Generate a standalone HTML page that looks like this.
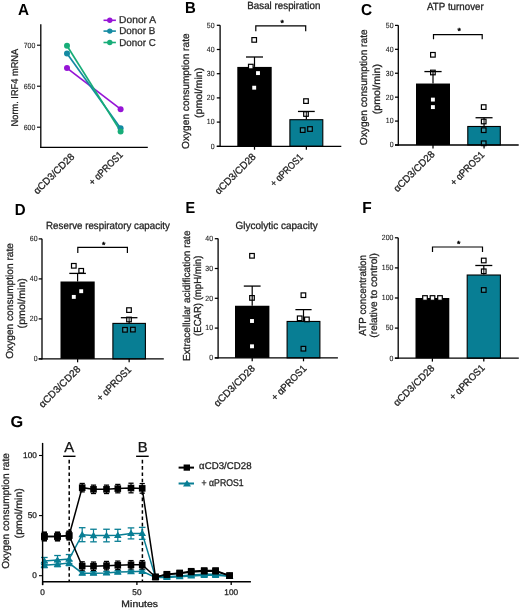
<!DOCTYPE html><html><head><meta charset="utf-8"><title>Figure</title><style>html,body{margin:0;padding:0;background:#fff;width:520px;height:610px;overflow:hidden}svg{display:block}text{font-family:'Liberation Sans', Arial, sans-serif}</style></head><body>
<svg width="520" height="610" viewBox="0 0 520 610">
<rect width="520" height="610" fill="#fff"/>
<text x="23.51" y="14.75" font-size="15.90" font-weight="bold" fill="#000" text-anchor="middle" textLength="11.05" lengthAdjust="spacingAndGlyphs" transform="rotate(0 23.510 14.750) translate(23.510 14.750) skewX(0.4) translate(-23.510 -14.750)">A</text>
<text x="190.52" y="13.05" font-size="15.90" font-weight="bold" fill="#000" text-anchor="middle" textLength="10.83" lengthAdjust="spacingAndGlyphs" transform="rotate(0 190.516 13.050) translate(190.516 13.050) skewX(0.4) translate(-190.516 -13.050)">B</text>
<text x="366.71" y="14.92" font-size="15.90" font-weight="bold" fill="#000" text-anchor="middle" textLength="11.17" lengthAdjust="spacingAndGlyphs" transform="rotate(0 366.710 14.917) translate(366.710 14.917) skewX(0.4) translate(-366.710 -14.917)">C</text>
<text x="20.20" y="214.85" font-size="15.90" font-weight="bold" fill="#000" text-anchor="middle" textLength="10.92" lengthAdjust="spacingAndGlyphs" transform="rotate(0 20.204 214.850) translate(20.204 214.850) skewX(0.4) translate(-20.204 -214.850)">D</text>
<text x="190.49" y="213.10" font-size="15.90" font-weight="bold" fill="#000" text-anchor="middle" textLength="9.71" lengthAdjust="spacingAndGlyphs" transform="rotate(0 190.488 213.100) translate(190.488 213.100) skewX(0.4) translate(-190.488 -213.100)">E</text>
<text x="366.98" y="213.10" font-size="15.90" font-weight="bold" fill="#000" text-anchor="middle" textLength="9.54" lengthAdjust="spacingAndGlyphs" transform="rotate(0 366.984 213.100) translate(366.984 213.100) skewX(0.4) translate(-366.984 -213.100)">F</text>
<text x="16.93" y="427.04" font-size="15.90" font-weight="bold" fill="#000" text-anchor="middle" textLength="12.77" lengthAdjust="spacingAndGlyphs" transform="rotate(0 16.929 427.043) translate(16.929 427.043) skewX(0.4) translate(-16.929 -427.043)">G</text>
<line x1="40.80" y1="24.20" x2="40.80" y2="148.00" stroke="#000" stroke-width="1.3" />
<line x1="40.20" y1="147.40" x2="147.80" y2="147.40" stroke="#000" stroke-width="1.3" />
<line x1="37.00" y1="45.20" x2="40.80" y2="45.20" stroke="#000" stroke-width="1.1" />
<text x="35.40" y="47.61" font-size="7.6" text-anchor="end" fill="#1a1a1a" font-weight="normal" transform="translate(35.400 47.613) skewX(0.4) translate(-35.400 -47.613)" stroke="#1a1a1a" stroke-width="0.1" textLength="11.68" lengthAdjust="spacingAndGlyphs">700</text>
<line x1="37.00" y1="86.20" x2="40.80" y2="86.20" stroke="#000" stroke-width="1.1" />
<text x="35.40" y="88.61" font-size="7.6" text-anchor="end" fill="#1a1a1a" font-weight="normal" transform="translate(35.400 88.613) skewX(0.4) translate(-35.400 -88.613)" stroke="#1a1a1a" stroke-width="0.1" textLength="11.68" lengthAdjust="spacingAndGlyphs">650</text>
<line x1="37.00" y1="127.20" x2="40.80" y2="127.20" stroke="#000" stroke-width="1.1" />
<text x="35.40" y="129.61" font-size="7.6" text-anchor="end" fill="#1a1a1a" font-weight="normal" transform="translate(35.400 129.613) skewX(0.4) translate(-35.400 -129.613)" stroke="#1a1a1a" stroke-width="0.1" textLength="11.68" lengthAdjust="spacingAndGlyphs">600</text>
<text x="18.30" y="87.61" font-size="9.80" font-weight="normal" fill="#222" text-anchor="middle" textLength="77.55" lengthAdjust="spacingAndGlyphs" transform="rotate(-90 18.299 87.610) translate(18.299 87.610) skewX(0.4) translate(-18.299 -87.610)" stroke="#222" stroke-width="0.28">Norm. IRF4 mRNA</text>
<line x1="67.00" y1="68.10" x2="120.60" y2="109.20" stroke="#9614d6" stroke-width="1.7" />
<line x1="67.00" y1="53.50" x2="120.60" y2="128.30" stroke="#148aa2" stroke-width="1.7" />
<line x1="67.00" y1="45.80" x2="120.60" y2="131.40" stroke="#17ad78" stroke-width="1.7" />
<circle cx="67" cy="68.1" r="3" fill="#9614d6"/><circle cx="120.6" cy="109.2" r="3" fill="#9614d6"/>
<circle cx="67" cy="53.5" r="3" fill="#148aa2"/><circle cx="120.6" cy="128.3" r="3" fill="#148aa2"/>
<circle cx="67" cy="45.8" r="3" fill="#17ad78"/><circle cx="120.6" cy="131.4" r="3" fill="#17ad78"/>
<line x1="103.50" y1="20.30" x2="115.90" y2="20.30" stroke="#9614d6" stroke-width="1.6" />
<circle cx="109.8" cy="20.3" r="2.7" fill="#9614d6"/>
<line x1="103.50" y1="31.10" x2="115.90" y2="31.10" stroke="#148aa2" stroke-width="1.6" />
<circle cx="109.8" cy="31.1" r="2.7" fill="#148aa2"/>
<line x1="103.50" y1="42.50" x2="115.90" y2="42.50" stroke="#17ad78" stroke-width="1.6" />
<circle cx="109.8" cy="42.5" r="2.7" fill="#17ad78"/>
<text x="137.64" y="23.49" font-size="10.00" font-weight="normal" fill="#333" text-anchor="middle" textLength="37.05" lengthAdjust="spacingAndGlyphs" transform="rotate(0 137.635 23.490) translate(137.635 23.490) skewX(0.4) translate(-137.635 -23.490)" stroke="#222" stroke-width="0.28">Donor A</text>
<text x="137.35" y="34.47" font-size="10.00" font-weight="normal" fill="#333" text-anchor="middle" textLength="36.27" lengthAdjust="spacingAndGlyphs" transform="rotate(0 137.348 34.466) translate(137.348 34.466) skewX(0.4) translate(-137.348 -34.466)" stroke="#222" stroke-width="0.28">Donor B</text>
<text x="137.50" y="45.68" font-size="10.00" font-weight="normal" fill="#333" text-anchor="middle" textLength="36.51" lengthAdjust="spacingAndGlyphs" transform="rotate(0 137.505 45.678) translate(137.505 45.678) skewX(0.4) translate(-137.505 -45.678)" stroke="#222" stroke-width="0.28">Donor C</text>
<text x="56.34" y="176.11" font-size="10.00" font-weight="normal" fill="#222" text-anchor="middle" textLength="53.03" lengthAdjust="spacingAndGlyphs" transform="rotate(-45 56.345 176.111) translate(56.345 176.111) skewX(0.4) translate(-56.345 -176.111)" stroke="#222" stroke-width="0.28">αCD3/CD28</text>
<text x="108.17" y="170.71" font-size="10.00" font-weight="normal" fill="#222" text-anchor="middle" textLength="43.27" lengthAdjust="spacingAndGlyphs" transform="rotate(-45 108.167 170.714) translate(108.167 170.714) skewX(0.4) translate(-108.167 -170.714)" stroke="#222" stroke-width="0.28">+ αPROS1</text>
<rect x="237.30" y="66.92" width="34.40" height="79.38" fill="#000"/>
<rect x="289.90" y="119.70" width="32.90" height="26.60" fill="#087e94" stroke="#000" stroke-width="1.1"/>
<line x1="254.50" y1="66.92" x2="254.50" y2="57.00" stroke="#000" stroke-width="1.2" />
<line x1="246.00" y1="57.00" x2="263.00" y2="57.00" stroke="#000" stroke-width="1.3" />
<line x1="306.35" y1="119.20" x2="306.35" y2="111.45" stroke="#000" stroke-width="1.2" />
<line x1="297.95" y1="111.45" x2="314.75" y2="111.45" stroke="#000" stroke-width="1.3" />
<rect x="251.90" y="37.60" width="4.60" height="4.60" fill="none" stroke="#000" stroke-width="1.2"/>
<rect x="248.50" y="64.30" width="4.60" height="4.60" fill="#fff" stroke="#000" stroke-width="1.2"/>
<rect x="256.05" y="71.15" width="3.9" height="3.9" fill="#fff"/>
<rect x="252.25" y="85.75" width="3.9" height="3.9" fill="#fff"/>
<rect x="303.70" y="98.80" width="4.60" height="4.60" fill="rgba(255,255,255,0.18)" stroke="#000" stroke-width="1.2"/>
<rect x="303.70" y="111.70" width="4.60" height="4.60" fill="rgba(255,255,255,0.18)" stroke="#000" stroke-width="1.2"/>
<rect x="300.40" y="127.80" width="4.60" height="4.60" fill="rgba(255,255,255,0.18)" stroke="#000" stroke-width="1.2"/>
<rect x="307.70" y="126.70" width="4.60" height="4.60" fill="rgba(255,255,255,0.18)" stroke="#000" stroke-width="1.2"/>
<line x1="220.10" y1="25.30" x2="220.10" y2="146.95" stroke="#000" stroke-width="1.3" />
<line x1="216.80" y1="146.30" x2="341.30" y2="146.30" stroke="#000" stroke-width="1.3" />
<line x1="216.80" y1="146.30" x2="220.10" y2="146.30" stroke="#000" stroke-width="1.25" />
<text x="214.60" y="148.71" font-size="7.6" text-anchor="end" fill="#1a1a1a" font-weight="normal" transform="translate(214.600 148.713) skewX(0.4) translate(-214.600 -148.713)" stroke="#1a1a1a" stroke-width="0.1" textLength="3.89" lengthAdjust="spacingAndGlyphs">0</text>
<line x1="216.80" y1="122.10" x2="220.10" y2="122.10" stroke="#000" stroke-width="1.25" />
<text x="214.60" y="124.51" font-size="7.6" text-anchor="end" fill="#1a1a1a" font-weight="normal" transform="translate(214.600 124.513) skewX(0.4) translate(-214.600 -124.513)" stroke="#1a1a1a" stroke-width="0.1" textLength="7.78" lengthAdjust="spacingAndGlyphs">10</text>
<line x1="216.80" y1="97.90" x2="220.10" y2="97.90" stroke="#000" stroke-width="1.25" />
<text x="214.60" y="100.31" font-size="7.6" text-anchor="end" fill="#1a1a1a" font-weight="normal" transform="translate(214.600 100.313) skewX(0.4) translate(-214.600 -100.313)" stroke="#1a1a1a" stroke-width="0.1" textLength="7.78" lengthAdjust="spacingAndGlyphs">20</text>
<line x1="216.80" y1="73.70" x2="220.10" y2="73.70" stroke="#000" stroke-width="1.25" />
<text x="214.60" y="76.11" font-size="7.6" text-anchor="end" fill="#1a1a1a" font-weight="normal" transform="translate(214.600 76.113) skewX(0.4) translate(-214.600 -76.113)" stroke="#1a1a1a" stroke-width="0.1" textLength="7.78" lengthAdjust="spacingAndGlyphs">30</text>
<line x1="216.80" y1="49.50" x2="220.10" y2="49.50" stroke="#000" stroke-width="1.25" />
<text x="214.60" y="51.91" font-size="7.6" text-anchor="end" fill="#1a1a1a" font-weight="normal" transform="translate(214.600 51.913) skewX(0.4) translate(-214.600 -51.913)" stroke="#1a1a1a" stroke-width="0.1" textLength="7.78" lengthAdjust="spacingAndGlyphs">40</text>
<line x1="216.80" y1="25.30" x2="220.10" y2="25.30" stroke="#000" stroke-width="1.25" />
<text x="214.60" y="27.71" font-size="7.6" text-anchor="end" fill="#1a1a1a" font-weight="normal" transform="translate(214.600 27.713) skewX(0.4) translate(-214.600 -27.713)" stroke="#1a1a1a" stroke-width="0.1" textLength="7.78" lengthAdjust="spacingAndGlyphs">50</text>
<line x1="254.50" y1="146.30" x2="254.50" y2="149.70" stroke="#000" stroke-width="1.25" />
<line x1="306.35" y1="146.30" x2="306.35" y2="149.70" stroke="#000" stroke-width="1.25" />
<polyline points="255.80,31.20 255.80,25.80 305.70,25.80 305.70,31.20" fill="none" stroke="#000" stroke-width="1.2"/>
<text x="282.30" y="26.10" font-size="8.8" text-anchor="middle" fill="#000" font-weight="normal" transform="translate(282.300 26.100) skewX(0.4) translate(-282.300 -26.100)" stroke="#000" stroke-width="0.45">*</text>
<text x="283.80" y="8.97" font-size="10.40" font-weight="normal" fill="#222" text-anchor="middle" textLength="73.12" lengthAdjust="spacingAndGlyphs" transform="rotate(0 283.800 8.971) translate(283.800 8.971) skewX(0.4) translate(-283.800 -8.971)" stroke="#222" stroke-width="0.28">Basal respiration</text>
<text x="189.15" y="91.15" font-size="10.20" font-weight="normal" fill="#222" text-anchor="middle" textLength="115.50" lengthAdjust="spacingAndGlyphs" transform="rotate(-90 189.153 91.146) translate(189.153 91.146) skewX(0.4) translate(-189.153 -91.146)" stroke="#222" stroke-width="0.28">Oxygen consumption rate</text>
<text x="202.48" y="92.85" font-size="10.20" font-weight="normal" fill="#222" text-anchor="middle" textLength="50.48" lengthAdjust="spacingAndGlyphs" transform="rotate(-90 202.483 92.851) translate(202.483 92.851) skewX(0.4) translate(-202.483 -92.851)" stroke="#222" stroke-width="0.28">(pmol/min)</text>
<text x="237.59" y="176.17" font-size="10.00" font-weight="normal" fill="#222" text-anchor="middle" textLength="53.39" lengthAdjust="spacingAndGlyphs" transform="rotate(-45 237.591 176.171) translate(237.591 176.171) skewX(0.4) translate(-237.591 -176.171)" stroke="#222" stroke-width="0.28">αCD3/CD28</text>
<text x="288.93" y="172.64" font-size="10.00" font-weight="normal" fill="#222" text-anchor="middle" textLength="41.49" lengthAdjust="spacingAndGlyphs" transform="rotate(-45 288.934 172.641) translate(288.934 172.641) skewX(0.4) translate(-288.934 -172.641)" stroke="#222" stroke-width="0.28">+ αPROS1</text>
<rect x="416.00" y="83.53" width="34.00" height="61.47" fill="#000"/>
<rect x="467.80" y="126.48" width="32.50" height="18.52" fill="#087e94" stroke="#000" stroke-width="1.1"/>
<line x1="433.00" y1="83.53" x2="433.00" y2="71.57" stroke="#000" stroke-width="1.2" />
<line x1="424.40" y1="71.57" x2="441.60" y2="71.57" stroke="#000" stroke-width="1.3" />
<line x1="484.05" y1="125.98" x2="484.05" y2="117.73" stroke="#000" stroke-width="1.2" />
<line x1="475.55" y1="117.73" x2="492.55" y2="117.73" stroke="#000" stroke-width="1.3" />
<rect x="430.60" y="52.50" width="4.60" height="4.60" fill="none" stroke="#000" stroke-width="1.2"/>
<rect x="430.60" y="70.20" width="4.60" height="4.60" fill="none" stroke="#000" stroke-width="1.2"/>
<rect x="430.95" y="97.65" width="3.9" height="3.9" fill="#fff"/>
<rect x="430.95" y="105.15" width="3.9" height="3.9" fill="#fff"/>
<rect x="481.40" y="104.80" width="4.60" height="4.60" fill="rgba(255,255,255,0.18)" stroke="#000" stroke-width="1.2"/>
<rect x="481.40" y="119.20" width="4.60" height="4.60" fill="rgba(255,255,255,0.18)" stroke="#000" stroke-width="1.2"/>
<rect x="481.40" y="127.90" width="4.60" height="4.60" fill="rgba(255,255,255,0.18)" stroke="#000" stroke-width="1.2"/>
<rect x="481.40" y="141.00" width="4.60" height="4.60" fill="rgba(255,255,255,0.18)" stroke="#000" stroke-width="1.2"/>
<line x1="398.30" y1="25.30" x2="398.30" y2="145.65" stroke="#000" stroke-width="1.3" />
<line x1="395.00" y1="145.00" x2="518.70" y2="145.00" stroke="#000" stroke-width="1.3" />
<line x1="395.00" y1="145.00" x2="398.30" y2="145.00" stroke="#000" stroke-width="1.25" />
<text x="393.60" y="147.41" font-size="7.6" text-anchor="end" fill="#1a1a1a" font-weight="normal" transform="translate(393.600 147.413) skewX(0.4) translate(-393.600 -147.413)" stroke="#1a1a1a" stroke-width="0.1" textLength="3.89" lengthAdjust="spacingAndGlyphs">0</text>
<line x1="395.00" y1="121.08" x2="398.30" y2="121.08" stroke="#000" stroke-width="1.25" />
<text x="393.60" y="123.49" font-size="7.6" text-anchor="end" fill="#1a1a1a" font-weight="normal" transform="translate(393.600 123.493) skewX(0.4) translate(-393.600 -123.493)" stroke="#1a1a1a" stroke-width="0.1" textLength="7.78" lengthAdjust="spacingAndGlyphs">10</text>
<line x1="395.00" y1="97.16" x2="398.30" y2="97.16" stroke="#000" stroke-width="1.25" />
<text x="393.60" y="99.57" font-size="7.6" text-anchor="end" fill="#1a1a1a" font-weight="normal" transform="translate(393.600 99.573) skewX(0.4) translate(-393.600 -99.573)" stroke="#1a1a1a" stroke-width="0.1" textLength="7.78" lengthAdjust="spacingAndGlyphs">20</text>
<line x1="395.00" y1="73.24" x2="398.30" y2="73.24" stroke="#000" stroke-width="1.25" />
<text x="393.60" y="75.65" font-size="7.6" text-anchor="end" fill="#1a1a1a" font-weight="normal" transform="translate(393.600 75.653) skewX(0.4) translate(-393.600 -75.653)" stroke="#1a1a1a" stroke-width="0.1" textLength="7.78" lengthAdjust="spacingAndGlyphs">30</text>
<line x1="395.00" y1="49.32" x2="398.30" y2="49.32" stroke="#000" stroke-width="1.25" />
<text x="393.60" y="51.73" font-size="7.6" text-anchor="end" fill="#1a1a1a" font-weight="normal" transform="translate(393.600 51.733) skewX(0.4) translate(-393.600 -51.733)" stroke="#1a1a1a" stroke-width="0.1" textLength="7.78" lengthAdjust="spacingAndGlyphs">40</text>
<line x1="395.00" y1="25.40" x2="398.30" y2="25.40" stroke="#000" stroke-width="1.25" />
<text x="393.60" y="27.81" font-size="7.6" text-anchor="end" fill="#1a1a1a" font-weight="normal" transform="translate(393.600 27.813) skewX(0.4) translate(-393.600 -27.813)" stroke="#1a1a1a" stroke-width="0.1" textLength="7.78" lengthAdjust="spacingAndGlyphs">50</text>
<line x1="433.00" y1="145.00" x2="433.00" y2="148.40" stroke="#000" stroke-width="1.25" />
<line x1="484.05" y1="145.00" x2="484.05" y2="148.40" stroke="#000" stroke-width="1.25" />
<polyline points="433.50,39.20 433.50,34.60 482.20,34.60 482.20,39.20" fill="none" stroke="#000" stroke-width="1.2"/>
<text x="459.20" y="34.20" font-size="8.8" text-anchor="middle" fill="#000" font-weight="normal" transform="translate(459.200 34.200) skewX(0.4) translate(-459.200 -34.200)" stroke="#000" stroke-width="0.45">*</text>
<text x="455.41" y="9.89" font-size="10.40" font-weight="normal" fill="#222" text-anchor="middle" textLength="56.73" lengthAdjust="spacingAndGlyphs" transform="rotate(0 455.412 9.891) translate(455.412 9.891) skewX(0.4) translate(-455.412 -9.891)" stroke="#222" stroke-width="0.28">ATP turnover</text>
<text x="367.22" y="87.27" font-size="10.20" font-weight="normal" fill="#222" text-anchor="middle" textLength="115.76" lengthAdjust="spacingAndGlyphs" transform="rotate(-90 367.221 87.266) translate(367.221 87.266) skewX(0.4) translate(-367.221 -87.266)" stroke="#222" stroke-width="0.28">Oxygen consumption rate</text>
<text x="380.19" y="89.14" font-size="10.20" font-weight="normal" fill="#222" text-anchor="middle" textLength="50.48" lengthAdjust="spacingAndGlyphs" transform="rotate(-90 380.186 89.137) translate(380.186 89.137) skewX(0.4) translate(-380.186 -89.137)" stroke="#222" stroke-width="0.28">(pmol/min)</text>
<text x="416.40" y="173.67" font-size="10.00" font-weight="normal" fill="#222" text-anchor="middle" textLength="53.38" lengthAdjust="spacingAndGlyphs" transform="rotate(-45 416.403 173.675) translate(416.403 173.675) skewX(0.4) translate(-416.403 -173.675)" stroke="#222" stroke-width="0.28">αCD3/CD28</text>
<text x="469.61" y="170.87" font-size="10.00" font-weight="normal" fill="#222" text-anchor="middle" textLength="43.66" lengthAdjust="spacingAndGlyphs" transform="rotate(-45 469.605 170.871) translate(469.605 170.871) skewX(0.4) translate(-469.605 -170.871)" stroke="#222" stroke-width="0.28">+ αPROS1</text>
<rect x="60.50" y="281.50" width="34.20" height="77.40" fill="#000"/>
<rect x="112.90" y="323.40" width="32.50" height="35.50" fill="#087e94" stroke="#000" stroke-width="1.1"/>
<line x1="77.60" y1="281.50" x2="77.60" y2="273.40" stroke="#000" stroke-width="1.2" />
<line x1="69.30" y1="273.40" x2="85.90" y2="273.40" stroke="#000" stroke-width="1.3" />
<line x1="129.15" y1="322.90" x2="129.15" y2="317.70" stroke="#000" stroke-width="1.2" />
<line x1="120.85" y1="317.70" x2="137.45" y2="317.70" stroke="#000" stroke-width="1.3" />
<rect x="71.50" y="263.50" width="4.60" height="4.60" fill="none" stroke="#000" stroke-width="1.2"/>
<rect x="78.90" y="268.50" width="4.60" height="4.60" fill="none" stroke="#000" stroke-width="1.2"/>
<rect x="79.25" y="289.25" width="3.9" height="3.9" fill="#fff"/>
<rect x="71.85" y="294.95" width="3.9" height="3.9" fill="#fff"/>
<rect x="126.70" y="307.80" width="4.60" height="4.60" fill="rgba(255,255,255,0.18)" stroke="#000" stroke-width="1.2"/>
<rect x="126.70" y="317.20" width="4.60" height="4.60" fill="rgba(255,255,255,0.18)" stroke="#000" stroke-width="1.2"/>
<rect x="122.70" y="327.50" width="4.60" height="4.60" fill="rgba(255,255,255,0.18)" stroke="#000" stroke-width="1.2"/>
<rect x="130.60" y="327.30" width="4.60" height="4.60" fill="rgba(255,255,255,0.18)" stroke="#000" stroke-width="1.2"/>
<line x1="42.00" y1="238.80" x2="42.00" y2="359.55" stroke="#000" stroke-width="1.3" />
<line x1="38.70" y1="358.90" x2="163.80" y2="358.90" stroke="#000" stroke-width="1.3" />
<line x1="38.70" y1="358.90" x2="42.00" y2="358.90" stroke="#000" stroke-width="1.25" />
<text x="37.60" y="361.31" font-size="7.6" text-anchor="end" fill="#1a1a1a" font-weight="normal" transform="translate(37.600 361.313) skewX(0.4) translate(-37.600 -361.313)" stroke="#1a1a1a" stroke-width="0.1" textLength="3.89" lengthAdjust="spacingAndGlyphs">0</text>
<line x1="38.70" y1="318.90" x2="42.00" y2="318.90" stroke="#000" stroke-width="1.25" />
<text x="37.60" y="321.31" font-size="7.6" text-anchor="end" fill="#1a1a1a" font-weight="normal" transform="translate(37.600 321.313) skewX(0.4) translate(-37.600 -321.313)" stroke="#1a1a1a" stroke-width="0.1" textLength="7.78" lengthAdjust="spacingAndGlyphs">20</text>
<line x1="38.70" y1="278.90" x2="42.00" y2="278.90" stroke="#000" stroke-width="1.25" />
<text x="37.60" y="281.31" font-size="7.6" text-anchor="end" fill="#1a1a1a" font-weight="normal" transform="translate(37.600 281.313) skewX(0.4) translate(-37.600 -281.313)" stroke="#1a1a1a" stroke-width="0.1" textLength="7.78" lengthAdjust="spacingAndGlyphs">40</text>
<line x1="38.70" y1="238.90" x2="42.00" y2="238.90" stroke="#000" stroke-width="1.25" />
<text x="37.60" y="241.31" font-size="7.6" text-anchor="end" fill="#1a1a1a" font-weight="normal" transform="translate(37.600 241.313) skewX(0.4) translate(-37.600 -241.313)" stroke="#1a1a1a" stroke-width="0.1" textLength="7.78" lengthAdjust="spacingAndGlyphs">60</text>
<line x1="77.60" y1="358.90" x2="77.60" y2="362.30" stroke="#000" stroke-width="1.25" />
<line x1="129.15" y1="358.90" x2="129.15" y2="362.30" stroke="#000" stroke-width="1.25" />
<polyline points="77.80,253.10 77.80,247.30 127.40,247.30 127.40,253.10" fill="none" stroke="#000" stroke-width="1.2"/>
<text x="103.80" y="248.10" font-size="8.8" text-anchor="middle" fill="#000" font-weight="normal" transform="translate(103.800 248.100) skewX(0.4) translate(-103.800 -248.100)" stroke="#000" stroke-width="0.45">*</text>
<text x="107.99" y="229.23" font-size="10.40" font-weight="normal" fill="#222" text-anchor="middle" textLength="123.85" lengthAdjust="spacingAndGlyphs" transform="rotate(0 107.992 229.229) translate(107.992 229.229) skewX(0.4) translate(-107.992 -229.229)" stroke="#222" stroke-width="0.28">Reserve respiratory capacity</text>
<text x="12.74" y="300.93" font-size="10.20" font-weight="normal" fill="#222" text-anchor="middle" textLength="115.79" lengthAdjust="spacingAndGlyphs" transform="rotate(-90 12.739 300.934) translate(12.739 300.934) skewX(0.4) translate(-12.739 -300.934)" stroke="#222" stroke-width="0.28">Oxygen consumption rate</text>
<text x="24.83" y="303.26" font-size="10.20" font-weight="normal" fill="#222" text-anchor="middle" textLength="50.31" lengthAdjust="spacingAndGlyphs" transform="rotate(-90 24.827 303.264) translate(24.827 303.264) skewX(0.4) translate(-24.827 -303.264)" stroke="#222" stroke-width="0.28">(pmol/min)</text>
<text x="62.01" y="389.01" font-size="10.00" font-weight="normal" fill="#222" text-anchor="middle" textLength="54.30" lengthAdjust="spacingAndGlyphs" transform="rotate(-45 62.014 389.010) translate(62.014 389.010) skewX(0.4) translate(-62.014 -389.010)" stroke="#222" stroke-width="0.28">αCD3/CD28</text>
<text x="116.32" y="386.04" font-size="10.00" font-weight="normal" fill="#222" text-anchor="middle" textLength="44.37" lengthAdjust="spacingAndGlyphs" transform="rotate(-45 116.316 386.041) translate(116.316 386.041) skewX(0.4) translate(-116.316 -386.041)" stroke="#222" stroke-width="0.28">+ αPROS1</text>
<rect x="235.00" y="305.75" width="34.40" height="52.15" fill="#000"/>
<rect x="287.10" y="321.45" width="32.80" height="36.45" fill="#087e94" stroke="#000" stroke-width="1.1"/>
<line x1="252.20" y1="305.75" x2="252.20" y2="286.08" stroke="#000" stroke-width="1.2" />
<line x1="243.80" y1="286.08" x2="260.60" y2="286.08" stroke="#000" stroke-width="1.3" />
<line x1="303.50" y1="320.95" x2="303.50" y2="309.62" stroke="#000" stroke-width="1.2" />
<line x1="295.40" y1="309.62" x2="311.60" y2="309.62" stroke="#000" stroke-width="1.3" />
<rect x="249.70" y="253.50" width="4.60" height="4.60" fill="none" stroke="#000" stroke-width="1.2"/>
<rect x="249.70" y="295.60" width="4.60" height="4.60" fill="none" stroke="#000" stroke-width="1.2"/>
<rect x="250.05" y="319.05" width="3.9" height="3.9" fill="#fff"/>
<rect x="250.05" y="344.35" width="3.9" height="3.9" fill="#fff"/>
<rect x="301.10" y="292.90" width="4.60" height="4.60" fill="rgba(255,255,255,0.18)" stroke="#000" stroke-width="1.2"/>
<rect x="297.40" y="316.00" width="4.60" height="4.60" fill="rgba(255,255,255,0.18)" stroke="#000" stroke-width="1.2"/>
<rect x="304.60" y="317.10" width="4.60" height="4.60" fill="rgba(255,255,255,0.18)" stroke="#000" stroke-width="1.2"/>
<rect x="301.10" y="346.40" width="4.60" height="4.60" fill="rgba(255,255,255,0.18)" stroke="#000" stroke-width="1.2"/>
<line x1="218.10" y1="238.60" x2="218.10" y2="358.55" stroke="#000" stroke-width="1.3" />
<line x1="214.80" y1="357.90" x2="337.90" y2="357.90" stroke="#000" stroke-width="1.3" />
<line x1="214.80" y1="357.90" x2="218.10" y2="357.90" stroke="#000" stroke-width="1.25" />
<text x="213.10" y="360.31" font-size="7.6" text-anchor="end" fill="#1a1a1a" font-weight="normal" transform="translate(213.100 360.313) skewX(0.4) translate(-213.100 -360.313)" stroke="#1a1a1a" stroke-width="0.1" textLength="3.89" lengthAdjust="spacingAndGlyphs">0</text>
<line x1="214.80" y1="328.10" x2="218.10" y2="328.10" stroke="#000" stroke-width="1.25" />
<text x="213.10" y="330.51" font-size="7.6" text-anchor="end" fill="#1a1a1a" font-weight="normal" transform="translate(213.100 330.513) skewX(0.4) translate(-213.100 -330.513)" stroke="#1a1a1a" stroke-width="0.1" textLength="7.78" lengthAdjust="spacingAndGlyphs">10</text>
<line x1="214.80" y1="298.30" x2="218.10" y2="298.30" stroke="#000" stroke-width="1.25" />
<text x="213.10" y="300.71" font-size="7.6" text-anchor="end" fill="#1a1a1a" font-weight="normal" transform="translate(213.100 300.713) skewX(0.4) translate(-213.100 -300.713)" stroke="#1a1a1a" stroke-width="0.1" textLength="7.78" lengthAdjust="spacingAndGlyphs">20</text>
<line x1="214.80" y1="268.50" x2="218.10" y2="268.50" stroke="#000" stroke-width="1.25" />
<text x="213.10" y="270.91" font-size="7.6" text-anchor="end" fill="#1a1a1a" font-weight="normal" transform="translate(213.100 270.913) skewX(0.4) translate(-213.100 -270.913)" stroke="#1a1a1a" stroke-width="0.1" textLength="7.78" lengthAdjust="spacingAndGlyphs">30</text>
<line x1="214.80" y1="238.70" x2="218.10" y2="238.70" stroke="#000" stroke-width="1.25" />
<text x="213.10" y="241.11" font-size="7.6" text-anchor="end" fill="#1a1a1a" font-weight="normal" transform="translate(213.100 241.113) skewX(0.4) translate(-213.100 -241.113)" stroke="#1a1a1a" stroke-width="0.1" textLength="7.78" lengthAdjust="spacingAndGlyphs">40</text>
<line x1="252.20" y1="357.90" x2="252.20" y2="361.30" stroke="#000" stroke-width="1.25" />
<line x1="303.50" y1="357.90" x2="303.50" y2="361.30" stroke="#000" stroke-width="1.25" />
<text x="276.58" y="228.59" font-size="10.40" font-weight="normal" fill="#222" text-anchor="middle" textLength="82.23" lengthAdjust="spacingAndGlyphs" transform="rotate(0 276.576 228.593) translate(276.576 228.593) skewX(0.4) translate(-276.576 -228.593)" stroke="#222" stroke-width="0.28">Glycolytic capacity</text>
<text x="190.11" y="295.80" font-size="10.20" font-weight="normal" fill="#222" text-anchor="middle" textLength="130.57" lengthAdjust="spacingAndGlyphs" transform="rotate(-90 190.108 295.800) translate(190.108 295.800) skewX(0.4) translate(-190.108 -295.800)" stroke="#222" stroke-width="0.28">Extracellular acidification rate</text>
<text x="200.81" y="295.80" font-size="10.20" font-weight="normal" fill="#222" text-anchor="middle" textLength="80.24" lengthAdjust="spacingAndGlyphs" transform="rotate(-90 200.809 295.796) translate(200.809 295.796) skewX(0.4) translate(-200.809 -295.796)" stroke="#222" stroke-width="0.28">(ECAR) (mpH/min)</text>
<text x="236.66" y="388.15" font-size="10.00" font-weight="normal" fill="#222" text-anchor="middle" textLength="53.79" lengthAdjust="spacingAndGlyphs" transform="rotate(-45 236.665 388.146) translate(236.665 388.146) skewX(0.4) translate(-236.665 -388.146)" stroke="#222" stroke-width="0.28">αCD3/CD28</text>
<text x="291.21" y="385.20" font-size="10.00" font-weight="normal" fill="#222" text-anchor="middle" textLength="45.37" lengthAdjust="spacingAndGlyphs" transform="rotate(-45 291.205 385.197) translate(291.205 385.197) skewX(0.4) translate(-291.205 -385.197)" stroke="#222" stroke-width="0.28">+ αPROS1</text>
<rect x="415.50" y="298.00" width="33.80" height="60.20" fill="#000"/>
<rect x="467.20" y="275.02" width="33.20" height="83.18" fill="#087e94" stroke="#000" stroke-width="1.1"/>
<line x1="483.80" y1="274.52" x2="483.80" y2="265.49" stroke="#000" stroke-width="1.2" />
<line x1="475.30" y1="265.49" x2="492.30" y2="265.49" stroke="#000" stroke-width="1.3" />
<rect x="422.70" y="295.70" width="4.60" height="4.60" fill="#fff" stroke="#000" stroke-width="1.2"/>
<rect x="430.20" y="295.70" width="4.60" height="4.60" fill="#fff" stroke="#000" stroke-width="1.2"/>
<rect x="437.70" y="295.70" width="4.60" height="4.60" fill="#fff" stroke="#000" stroke-width="1.2"/>
<rect x="481.45" y="258.20" width="4.60" height="4.60" fill="rgba(255,255,255,0.18)" stroke="#000" stroke-width="1.2"/>
<rect x="481.45" y="269.00" width="4.60" height="4.60" fill="rgba(255,255,255,0.18)" stroke="#000" stroke-width="1.2"/>
<rect x="481.45" y="287.70" width="4.60" height="4.60" fill="rgba(255,255,255,0.18)" stroke="#000" stroke-width="1.2"/>
<line x1="398.20" y1="237.80" x2="398.20" y2="358.85" stroke="#000" stroke-width="1.3" />
<line x1="394.90" y1="358.20" x2="518.80" y2="358.20" stroke="#000" stroke-width="1.3" />
<line x1="394.90" y1="358.20" x2="398.20" y2="358.20" stroke="#000" stroke-width="1.25" />
<text x="393.50" y="360.61" font-size="7.6" text-anchor="end" fill="#1a1a1a" font-weight="normal" transform="translate(393.500 360.613) skewX(0.4) translate(-393.500 -360.613)" stroke="#1a1a1a" stroke-width="0.1" textLength="3.89" lengthAdjust="spacingAndGlyphs">0</text>
<line x1="394.90" y1="328.10" x2="398.20" y2="328.10" stroke="#000" stroke-width="1.25" />
<text x="393.50" y="330.51" font-size="7.6" text-anchor="end" fill="#1a1a1a" font-weight="normal" transform="translate(393.500 330.513) skewX(0.4) translate(-393.500 -330.513)" stroke="#1a1a1a" stroke-width="0.1" textLength="7.78" lengthAdjust="spacingAndGlyphs">50</text>
<line x1="394.90" y1="298.00" x2="398.20" y2="298.00" stroke="#000" stroke-width="1.25" />
<text x="393.50" y="300.41" font-size="7.6" text-anchor="end" fill="#1a1a1a" font-weight="normal" transform="translate(393.500 300.413) skewX(0.4) translate(-393.500 -300.413)" stroke="#1a1a1a" stroke-width="0.1" textLength="11.68" lengthAdjust="spacingAndGlyphs">100</text>
<line x1="394.90" y1="267.90" x2="398.20" y2="267.90" stroke="#000" stroke-width="1.25" />
<text x="393.50" y="270.31" font-size="7.6" text-anchor="end" fill="#1a1a1a" font-weight="normal" transform="translate(393.500 270.313) skewX(0.4) translate(-393.500 -270.313)" stroke="#1a1a1a" stroke-width="0.1" textLength="11.68" lengthAdjust="spacingAndGlyphs">150</text>
<line x1="394.90" y1="237.80" x2="398.20" y2="237.80" stroke="#000" stroke-width="1.25" />
<text x="393.50" y="240.21" font-size="7.6" text-anchor="end" fill="#1a1a1a" font-weight="normal" transform="translate(393.500 240.213) skewX(0.4) translate(-393.500 -240.213)" stroke="#1a1a1a" stroke-width="0.1" textLength="11.68" lengthAdjust="spacingAndGlyphs">200</text>
<line x1="432.40" y1="358.20" x2="432.40" y2="361.60" stroke="#000" stroke-width="1.25" />
<line x1="483.80" y1="358.20" x2="483.80" y2="361.60" stroke="#000" stroke-width="1.25" />
<polyline points="432.50,252.00 432.50,247.00 482.50,247.00 482.50,252.00" fill="none" stroke="#000" stroke-width="1.2"/>
<text x="458.75" y="246.65" font-size="8.8" text-anchor="middle" fill="#000" font-weight="normal" transform="translate(458.750 246.650) skewX(0.4) translate(-458.750 -246.650)" stroke="#000" stroke-width="0.45">*</text>
<text x="366.03" y="295.41" font-size="10.20" font-weight="normal" fill="#222" text-anchor="middle" textLength="80.69" lengthAdjust="spacingAndGlyphs" transform="rotate(-90 366.032 295.406) translate(366.032 295.406) skewX(0.4) translate(-366.032 -295.406)" stroke="#222" stroke-width="0.28">ATP concentration</text>
<text x="377.44" y="295.31" font-size="10.20" font-weight="normal" fill="#222" text-anchor="middle" textLength="84.71" lengthAdjust="spacingAndGlyphs" transform="rotate(-90 377.445 295.314) translate(377.445 295.314) skewX(0.4) translate(-377.445 -295.314)" stroke="#222" stroke-width="0.28">(relative to control)</text>
<text x="416.15" y="387.92" font-size="10.00" font-weight="normal" fill="#222" text-anchor="middle" textLength="53.60" lengthAdjust="spacingAndGlyphs" transform="rotate(-45 416.146 387.917) translate(416.146 387.917) skewX(0.4) translate(-416.146 -387.917)" stroke="#222" stroke-width="0.28">αCD3/CD28</text>
<text x="469.42" y="384.59" font-size="10.00" font-weight="normal" fill="#222" text-anchor="middle" textLength="45.54" lengthAdjust="spacingAndGlyphs" transform="rotate(-45 469.420 384.587) translate(469.420 384.587) skewX(0.4) translate(-469.420 -384.587)" stroke="#222" stroke-width="0.28">+ αPROS1</text>
<line x1="69.20" y1="459.80" x2="69.20" y2="581.70" stroke="#000" stroke-width="1.5" stroke-dasharray="3.6 2.7"/>
<line x1="142.40" y1="459.80" x2="142.40" y2="581.70" stroke="#000" stroke-width="1.5" stroke-dasharray="3.6 2.7"/>
<line x1="63.10" y1="456.30" x2="75.50" y2="456.30" stroke="#000" stroke-width="1.4" />
<line x1="136.10" y1="456.30" x2="148.70" y2="456.30" stroke="#000" stroke-width="1.4" />
<text x="69.20" y="451.67" font-size="14.50" font-weight="normal" fill="#111" text-anchor="middle" textLength="9.91" lengthAdjust="spacingAndGlyphs" transform="rotate(0 69.199 451.669) translate(69.199 451.669) skewX(0.4) translate(-69.199 -451.669)" stroke="#222" stroke-width="0.28">A</text>
<text x="142.64" y="451.72" font-size="14.50" font-weight="normal" fill="#111" text-anchor="middle" textLength="9.92" lengthAdjust="spacingAndGlyphs" transform="rotate(0 142.642 451.720) translate(142.642 451.720) skewX(0.4) translate(-142.642 -451.720)" stroke="#222" stroke-width="0.28">B</text>
<polyline points="44.35,560.97 57.50,560.02 69.10,559.06 82.20,534.70 93.50,535.54 106.50,535.54 117.80,535.30 131.00,533.39 142.20,533.39 155.50,577.21 166.90,576.73 179.70,576.02 191.20,575.06 204.20,574.34 215.60,574.34 229.60,576.02" fill="none" stroke="#087e94" stroke-width="1.5"/>
<line x1="44.35" y1="557.47" x2="44.35" y2="564.47" stroke="#087e94" stroke-width="1.2" />
<line x1="41.05" y1="557.47" x2="47.65" y2="557.47" stroke="#087e94" stroke-width="1.3" />
<line x1="41.05" y1="564.47" x2="47.65" y2="564.47" stroke="#087e94" stroke-width="1.3" />
<polygon points="44.35,557.17 48.15,563.57 40.55,563.57" fill="#087e94"/>
<line x1="57.50" y1="555.52" x2="57.50" y2="564.52" stroke="#087e94" stroke-width="1.2" />
<line x1="54.20" y1="555.52" x2="60.80" y2="555.52" stroke="#087e94" stroke-width="1.3" />
<line x1="54.20" y1="564.52" x2="60.80" y2="564.52" stroke="#087e94" stroke-width="1.3" />
<polygon points="57.50,556.22 61.30,562.62 53.70,562.62" fill="#087e94"/>
<line x1="69.10" y1="554.56" x2="69.10" y2="563.56" stroke="#087e94" stroke-width="1.2" />
<line x1="65.80" y1="554.56" x2="72.40" y2="554.56" stroke="#087e94" stroke-width="1.3" />
<line x1="65.80" y1="563.56" x2="72.40" y2="563.56" stroke="#087e94" stroke-width="1.3" />
<polygon points="69.10,555.26 72.90,561.66 65.30,561.66" fill="#087e94"/>
<line x1="82.20" y1="527.70" x2="82.20" y2="541.70" stroke="#087e94" stroke-width="1.2" />
<line x1="78.90" y1="527.70" x2="85.50" y2="527.70" stroke="#087e94" stroke-width="1.3" />
<line x1="78.90" y1="541.70" x2="85.50" y2="541.70" stroke="#087e94" stroke-width="1.3" />
<polygon points="82.20,530.90 86.00,537.30 78.40,537.30" fill="#087e94"/>
<line x1="93.50" y1="529.24" x2="93.50" y2="541.84" stroke="#087e94" stroke-width="1.2" />
<line x1="90.20" y1="529.24" x2="96.80" y2="529.24" stroke="#087e94" stroke-width="1.3" />
<line x1="90.20" y1="541.84" x2="96.80" y2="541.84" stroke="#087e94" stroke-width="1.3" />
<polygon points="93.50,531.74 97.30,538.14 89.70,538.14" fill="#087e94"/>
<line x1="106.50" y1="529.24" x2="106.50" y2="541.84" stroke="#087e94" stroke-width="1.2" />
<line x1="103.20" y1="529.24" x2="109.80" y2="529.24" stroke="#087e94" stroke-width="1.3" />
<line x1="103.20" y1="541.84" x2="109.80" y2="541.84" stroke="#087e94" stroke-width="1.3" />
<polygon points="106.50,531.74 110.30,538.14 102.70,538.14" fill="#087e94"/>
<line x1="117.80" y1="529.30" x2="117.80" y2="541.30" stroke="#087e94" stroke-width="1.2" />
<line x1="114.50" y1="529.30" x2="121.10" y2="529.30" stroke="#087e94" stroke-width="1.3" />
<line x1="114.50" y1="541.30" x2="121.10" y2="541.30" stroke="#087e94" stroke-width="1.3" />
<polygon points="117.80,531.50 121.60,537.90 114.00,537.90" fill="#087e94"/>
<line x1="131.00" y1="527.89" x2="131.00" y2="538.89" stroke="#087e94" stroke-width="1.2" />
<line x1="127.70" y1="527.89" x2="134.30" y2="527.89" stroke="#087e94" stroke-width="1.3" />
<line x1="127.70" y1="538.89" x2="134.30" y2="538.89" stroke="#087e94" stroke-width="1.3" />
<polygon points="131.00,529.59 134.80,535.99 127.20,535.99" fill="#087e94"/>
<line x1="142.20" y1="527.39" x2="142.20" y2="539.39" stroke="#087e94" stroke-width="1.2" />
<line x1="138.90" y1="527.39" x2="145.50" y2="527.39" stroke="#087e94" stroke-width="1.3" />
<line x1="138.90" y1="539.39" x2="145.50" y2="539.39" stroke="#087e94" stroke-width="1.3" />
<polygon points="142.20,529.59 146.00,535.99 138.40,535.99" fill="#087e94"/>
<line x1="155.50" y1="576.21" x2="155.50" y2="578.21" stroke="#087e94" stroke-width="1.2" />
<line x1="152.20" y1="576.21" x2="158.80" y2="576.21" stroke="#087e94" stroke-width="1.3" />
<line x1="152.20" y1="578.21" x2="158.80" y2="578.21" stroke="#087e94" stroke-width="1.3" />
<polygon points="155.50,573.41 159.30,579.81 151.70,579.81" fill="#087e94"/>
<line x1="166.90" y1="575.73" x2="166.90" y2="577.73" stroke="#087e94" stroke-width="1.2" />
<line x1="163.60" y1="575.73" x2="170.20" y2="575.73" stroke="#087e94" stroke-width="1.3" />
<line x1="163.60" y1="577.73" x2="170.20" y2="577.73" stroke="#087e94" stroke-width="1.3" />
<polygon points="166.90,572.93 170.70,579.33 163.10,579.33" fill="#087e94"/>
<line x1="179.70" y1="575.02" x2="179.70" y2="577.02" stroke="#087e94" stroke-width="1.2" />
<line x1="176.40" y1="575.02" x2="183.00" y2="575.02" stroke="#087e94" stroke-width="1.3" />
<line x1="176.40" y1="577.02" x2="183.00" y2="577.02" stroke="#087e94" stroke-width="1.3" />
<polygon points="179.70,572.22 183.50,578.62 175.90,578.62" fill="#087e94"/>
<line x1="191.20" y1="574.06" x2="191.20" y2="576.06" stroke="#087e94" stroke-width="1.2" />
<line x1="187.90" y1="574.06" x2="194.50" y2="574.06" stroke="#087e94" stroke-width="1.3" />
<line x1="187.90" y1="576.06" x2="194.50" y2="576.06" stroke="#087e94" stroke-width="1.3" />
<polygon points="191.20,571.26 195.00,577.66 187.40,577.66" fill="#087e94"/>
<line x1="204.20" y1="573.34" x2="204.20" y2="575.34" stroke="#087e94" stroke-width="1.2" />
<line x1="200.90" y1="573.34" x2="207.50" y2="573.34" stroke="#087e94" stroke-width="1.3" />
<line x1="200.90" y1="575.34" x2="207.50" y2="575.34" stroke="#087e94" stroke-width="1.3" />
<polygon points="204.20,570.54 208.00,576.94 200.40,576.94" fill="#087e94"/>
<line x1="215.60" y1="573.34" x2="215.60" y2="575.34" stroke="#087e94" stroke-width="1.2" />
<line x1="212.30" y1="573.34" x2="218.90" y2="573.34" stroke="#087e94" stroke-width="1.3" />
<line x1="212.30" y1="575.34" x2="218.90" y2="575.34" stroke="#087e94" stroke-width="1.3" />
<polygon points="215.60,570.54 219.40,576.94 211.80,576.94" fill="#087e94"/>
<line x1="229.60" y1="575.02" x2="229.60" y2="577.02" stroke="#087e94" stroke-width="1.2" />
<line x1="226.30" y1="575.02" x2="232.90" y2="575.02" stroke="#087e94" stroke-width="1.3" />
<line x1="226.30" y1="577.02" x2="232.90" y2="577.02" stroke="#087e94" stroke-width="1.3" />
<polygon points="229.60,572.22 233.40,578.62 225.80,578.62" fill="#087e94"/>
<polyline points="44.35,565.15 57.50,564.20 69.10,563.12 82.20,573.15 93.50,573.15 106.50,572.91 117.80,572.08 131.00,571.72 142.20,571.36 155.50,577.45 166.90,577.45 179.70,576.73 191.20,576.02 204.20,575.30 215.60,575.30 229.60,576.26" fill="none" stroke="#087e94" stroke-width="1.5"/>
<line x1="44.35" y1="562.65" x2="44.35" y2="567.65" stroke="#087e94" stroke-width="1.2" />
<line x1="41.05" y1="562.65" x2="47.65" y2="562.65" stroke="#087e94" stroke-width="1.3" />
<line x1="41.05" y1="567.65" x2="47.65" y2="567.65" stroke="#087e94" stroke-width="1.3" />
<polygon points="44.35,561.35 48.15,567.75 40.55,567.75" fill="#087e94"/>
<line x1="57.50" y1="561.70" x2="57.50" y2="566.70" stroke="#087e94" stroke-width="1.2" />
<line x1="54.20" y1="561.70" x2="60.80" y2="561.70" stroke="#087e94" stroke-width="1.3" />
<line x1="54.20" y1="566.70" x2="60.80" y2="566.70" stroke="#087e94" stroke-width="1.3" />
<polygon points="57.50,560.40 61.30,566.80 53.70,566.80" fill="#087e94"/>
<line x1="69.10" y1="560.62" x2="69.10" y2="565.62" stroke="#087e94" stroke-width="1.2" />
<line x1="65.80" y1="560.62" x2="72.40" y2="560.62" stroke="#087e94" stroke-width="1.3" />
<line x1="65.80" y1="565.62" x2="72.40" y2="565.62" stroke="#087e94" stroke-width="1.3" />
<polygon points="69.10,559.32 72.90,565.72 65.30,565.72" fill="#087e94"/>
<line x1="82.20" y1="571.65" x2="82.20" y2="574.65" stroke="#087e94" stroke-width="1.2" />
<line x1="78.90" y1="571.65" x2="85.50" y2="571.65" stroke="#087e94" stroke-width="1.3" />
<line x1="78.90" y1="574.65" x2="85.50" y2="574.65" stroke="#087e94" stroke-width="1.3" />
<polygon points="82.20,569.35 86.00,575.75 78.40,575.75" fill="#087e94"/>
<line x1="93.50" y1="571.65" x2="93.50" y2="574.65" stroke="#087e94" stroke-width="1.2" />
<line x1="90.20" y1="571.65" x2="96.80" y2="571.65" stroke="#087e94" stroke-width="1.3" />
<line x1="90.20" y1="574.65" x2="96.80" y2="574.65" stroke="#087e94" stroke-width="1.3" />
<polygon points="93.50,569.35 97.30,575.75 89.70,575.75" fill="#087e94"/>
<line x1="106.50" y1="571.41" x2="106.50" y2="574.41" stroke="#087e94" stroke-width="1.2" />
<line x1="103.20" y1="571.41" x2="109.80" y2="571.41" stroke="#087e94" stroke-width="1.3" />
<line x1="103.20" y1="574.41" x2="109.80" y2="574.41" stroke="#087e94" stroke-width="1.3" />
<polygon points="106.50,569.11 110.30,575.51 102.70,575.51" fill="#087e94"/>
<line x1="117.80" y1="570.58" x2="117.80" y2="573.58" stroke="#087e94" stroke-width="1.2" />
<line x1="114.50" y1="570.58" x2="121.10" y2="570.58" stroke="#087e94" stroke-width="1.3" />
<line x1="114.50" y1="573.58" x2="121.10" y2="573.58" stroke="#087e94" stroke-width="1.3" />
<polygon points="117.80,568.28 121.60,574.68 114.00,574.68" fill="#087e94"/>
<line x1="131.00" y1="570.22" x2="131.00" y2="573.22" stroke="#087e94" stroke-width="1.2" />
<line x1="127.70" y1="570.22" x2="134.30" y2="570.22" stroke="#087e94" stroke-width="1.3" />
<line x1="127.70" y1="573.22" x2="134.30" y2="573.22" stroke="#087e94" stroke-width="1.3" />
<polygon points="131.00,567.92 134.80,574.32 127.20,574.32" fill="#087e94"/>
<line x1="142.20" y1="569.86" x2="142.20" y2="572.86" stroke="#087e94" stroke-width="1.2" />
<line x1="138.90" y1="569.86" x2="145.50" y2="569.86" stroke="#087e94" stroke-width="1.3" />
<line x1="138.90" y1="572.86" x2="145.50" y2="572.86" stroke="#087e94" stroke-width="1.3" />
<polygon points="142.20,567.56 146.00,573.96 138.40,573.96" fill="#087e94"/>
<line x1="155.50" y1="576.45" x2="155.50" y2="578.45" stroke="#087e94" stroke-width="1.2" />
<line x1="152.20" y1="576.45" x2="158.80" y2="576.45" stroke="#087e94" stroke-width="1.3" />
<line x1="152.20" y1="578.45" x2="158.80" y2="578.45" stroke="#087e94" stroke-width="1.3" />
<polygon points="155.50,573.65 159.30,580.05 151.70,580.05" fill="#087e94"/>
<line x1="166.90" y1="576.45" x2="166.90" y2="578.45" stroke="#087e94" stroke-width="1.2" />
<line x1="163.60" y1="576.45" x2="170.20" y2="576.45" stroke="#087e94" stroke-width="1.3" />
<line x1="163.60" y1="578.45" x2="170.20" y2="578.45" stroke="#087e94" stroke-width="1.3" />
<polygon points="166.90,573.65 170.70,580.05 163.10,580.05" fill="#087e94"/>
<line x1="179.70" y1="575.73" x2="179.70" y2="577.73" stroke="#087e94" stroke-width="1.2" />
<line x1="176.40" y1="575.73" x2="183.00" y2="575.73" stroke="#087e94" stroke-width="1.3" />
<line x1="176.40" y1="577.73" x2="183.00" y2="577.73" stroke="#087e94" stroke-width="1.3" />
<polygon points="179.70,572.93 183.50,579.33 175.90,579.33" fill="#087e94"/>
<line x1="191.20" y1="575.02" x2="191.20" y2="577.02" stroke="#087e94" stroke-width="1.2" />
<line x1="187.90" y1="575.02" x2="194.50" y2="575.02" stroke="#087e94" stroke-width="1.3" />
<line x1="187.90" y1="577.02" x2="194.50" y2="577.02" stroke="#087e94" stroke-width="1.3" />
<polygon points="191.20,572.22 195.00,578.62 187.40,578.62" fill="#087e94"/>
<line x1="204.20" y1="574.30" x2="204.20" y2="576.30" stroke="#087e94" stroke-width="1.2" />
<line x1="200.90" y1="574.30" x2="207.50" y2="574.30" stroke="#087e94" stroke-width="1.3" />
<line x1="200.90" y1="576.30" x2="207.50" y2="576.30" stroke="#087e94" stroke-width="1.3" />
<polygon points="204.20,571.50 208.00,577.90 200.40,577.90" fill="#087e94"/>
<line x1="215.60" y1="574.30" x2="215.60" y2="576.30" stroke="#087e94" stroke-width="1.2" />
<line x1="212.30" y1="574.30" x2="218.90" y2="574.30" stroke="#087e94" stroke-width="1.3" />
<line x1="212.30" y1="576.30" x2="218.90" y2="576.30" stroke="#087e94" stroke-width="1.3" />
<polygon points="215.60,571.50 219.40,577.90 211.80,577.90" fill="#087e94"/>
<line x1="229.60" y1="575.26" x2="229.60" y2="577.26" stroke="#087e94" stroke-width="1.2" />
<line x1="226.30" y1="575.26" x2="232.90" y2="575.26" stroke="#087e94" stroke-width="1.3" />
<line x1="226.30" y1="577.26" x2="232.90" y2="577.26" stroke="#087e94" stroke-width="1.3" />
<polygon points="229.60,572.46 233.40,578.86 225.80,578.86" fill="#087e94"/>
<polyline points="44.35,536.50 57.50,536.50 69.10,535.54 82.20,565.99 93.50,566.23 106.50,565.63 117.80,565.27 131.00,564.79 142.20,564.79 155.50,576.97 166.90,574.58 179.70,573.39 191.20,571.96 204.20,571.24 215.60,571.24 229.60,575.66" fill="none" stroke="#000" stroke-width="1.5"/>
<line x1="44.35" y1="532.29" x2="44.35" y2="540.70" stroke="#000" stroke-width="1.2" />
<line x1="41.75" y1="532.29" x2="46.95" y2="532.29" stroke="#000" stroke-width="1.3" />
<line x1="41.75" y1="540.70" x2="46.95" y2="540.70" stroke="#000" stroke-width="1.3" />
<rect x="41.05" y="533.20" width="6.6" height="6.6" fill="#000"/>
<line x1="57.50" y1="532.29" x2="57.50" y2="540.70" stroke="#000" stroke-width="1.2" />
<line x1="54.90" y1="532.29" x2="60.10" y2="532.29" stroke="#000" stroke-width="1.3" />
<line x1="54.90" y1="540.70" x2="60.10" y2="540.70" stroke="#000" stroke-width="1.3" />
<rect x="54.20" y="533.20" width="6.6" height="6.6" fill="#000"/>
<line x1="69.10" y1="531.34" x2="69.10" y2="539.74" stroke="#000" stroke-width="1.2" />
<line x1="66.50" y1="531.34" x2="71.70" y2="531.34" stroke="#000" stroke-width="1.3" />
<line x1="66.50" y1="539.74" x2="71.70" y2="539.74" stroke="#000" stroke-width="1.3" />
<rect x="65.80" y="532.24" width="6.6" height="6.6" fill="#000"/>
<line x1="82.20" y1="561.79" x2="82.20" y2="570.19" stroke="#000" stroke-width="1.2" />
<line x1="79.60" y1="561.79" x2="84.80" y2="561.79" stroke="#000" stroke-width="1.3" />
<line x1="79.60" y1="570.19" x2="84.80" y2="570.19" stroke="#000" stroke-width="1.3" />
<rect x="78.90" y="562.69" width="6.6" height="6.6" fill="#000"/>
<line x1="93.50" y1="562.03" x2="93.50" y2="570.43" stroke="#000" stroke-width="1.2" />
<line x1="90.90" y1="562.03" x2="96.10" y2="562.03" stroke="#000" stroke-width="1.3" />
<line x1="90.90" y1="570.43" x2="96.10" y2="570.43" stroke="#000" stroke-width="1.3" />
<rect x="90.20" y="562.93" width="6.6" height="6.6" fill="#000"/>
<line x1="106.50" y1="561.43" x2="106.50" y2="569.83" stroke="#000" stroke-width="1.2" />
<line x1="103.90" y1="561.43" x2="109.10" y2="561.43" stroke="#000" stroke-width="1.3" />
<line x1="103.90" y1="569.83" x2="109.10" y2="569.83" stroke="#000" stroke-width="1.3" />
<rect x="103.20" y="562.33" width="6.6" height="6.6" fill="#000"/>
<line x1="117.80" y1="561.07" x2="117.80" y2="569.47" stroke="#000" stroke-width="1.2" />
<line x1="115.20" y1="561.07" x2="120.40" y2="561.07" stroke="#000" stroke-width="1.3" />
<line x1="115.20" y1="569.47" x2="120.40" y2="569.47" stroke="#000" stroke-width="1.3" />
<rect x="114.50" y="561.97" width="6.6" height="6.6" fill="#000"/>
<line x1="131.00" y1="560.59" x2="131.00" y2="568.99" stroke="#000" stroke-width="1.2" />
<line x1="128.40" y1="560.59" x2="133.60" y2="560.59" stroke="#000" stroke-width="1.3" />
<line x1="128.40" y1="568.99" x2="133.60" y2="568.99" stroke="#000" stroke-width="1.3" />
<rect x="127.70" y="561.49" width="6.6" height="6.6" fill="#000"/>
<line x1="142.20" y1="560.59" x2="142.20" y2="568.99" stroke="#000" stroke-width="1.2" />
<line x1="139.60" y1="560.59" x2="144.80" y2="560.59" stroke="#000" stroke-width="1.3" />
<line x1="139.60" y1="568.99" x2="144.80" y2="568.99" stroke="#000" stroke-width="1.3" />
<rect x="138.90" y="561.49" width="6.6" height="6.6" fill="#000"/>
<line x1="155.50" y1="575.47" x2="155.50" y2="578.47" stroke="#000" stroke-width="1.2" />
<line x1="152.90" y1="575.47" x2="158.10" y2="575.47" stroke="#000" stroke-width="1.3" />
<line x1="152.90" y1="578.47" x2="158.10" y2="578.47" stroke="#000" stroke-width="1.3" />
<rect x="152.20" y="573.67" width="6.6" height="6.6" fill="#000"/>
<line x1="166.90" y1="573.08" x2="166.90" y2="576.08" stroke="#000" stroke-width="1.2" />
<line x1="164.30" y1="573.08" x2="169.50" y2="573.08" stroke="#000" stroke-width="1.3" />
<line x1="164.30" y1="576.08" x2="169.50" y2="576.08" stroke="#000" stroke-width="1.3" />
<rect x="163.60" y="571.28" width="6.6" height="6.6" fill="#000"/>
<line x1="179.70" y1="571.89" x2="179.70" y2="574.89" stroke="#000" stroke-width="1.2" />
<line x1="177.10" y1="571.89" x2="182.30" y2="571.89" stroke="#000" stroke-width="1.3" />
<line x1="177.10" y1="574.89" x2="182.30" y2="574.89" stroke="#000" stroke-width="1.3" />
<rect x="176.40" y="570.09" width="6.6" height="6.6" fill="#000"/>
<line x1="191.20" y1="570.46" x2="191.20" y2="573.46" stroke="#000" stroke-width="1.2" />
<line x1="188.60" y1="570.46" x2="193.80" y2="570.46" stroke="#000" stroke-width="1.3" />
<line x1="188.60" y1="573.46" x2="193.80" y2="573.46" stroke="#000" stroke-width="1.3" />
<rect x="187.90" y="568.66" width="6.6" height="6.6" fill="#000"/>
<line x1="204.20" y1="569.74" x2="204.20" y2="572.74" stroke="#000" stroke-width="1.2" />
<line x1="201.60" y1="569.74" x2="206.80" y2="569.74" stroke="#000" stroke-width="1.3" />
<line x1="201.60" y1="572.74" x2="206.80" y2="572.74" stroke="#000" stroke-width="1.3" />
<rect x="200.90" y="567.94" width="6.6" height="6.6" fill="#000"/>
<line x1="215.60" y1="569.74" x2="215.60" y2="572.74" stroke="#000" stroke-width="1.2" />
<line x1="213.00" y1="569.74" x2="218.20" y2="569.74" stroke="#000" stroke-width="1.3" />
<line x1="213.00" y1="572.74" x2="218.20" y2="572.74" stroke="#000" stroke-width="1.3" />
<rect x="212.30" y="567.94" width="6.6" height="6.6" fill="#000"/>
<line x1="229.60" y1="574.16" x2="229.60" y2="577.16" stroke="#000" stroke-width="1.2" />
<line x1="227.00" y1="574.16" x2="232.20" y2="574.16" stroke="#000" stroke-width="1.3" />
<line x1="227.00" y1="577.16" x2="232.20" y2="577.16" stroke="#000" stroke-width="1.3" />
<rect x="226.30" y="572.36" width="6.6" height="6.6" fill="#000"/>
<polyline points="44.35,536.50 57.50,536.50 69.10,535.54 82.20,487.66 93.50,489.33 106.50,489.33 117.80,488.62 131.00,488.02 142.20,488.38 155.50,576.97 166.90,574.23 179.70,572.91 191.20,571.24 204.20,570.52 215.60,570.52 229.60,575.66" fill="none" stroke="#000" stroke-width="1.5"/>
<line x1="44.35" y1="532.29" x2="44.35" y2="540.70" stroke="#000" stroke-width="1.2" />
<line x1="41.75" y1="532.29" x2="46.95" y2="532.29" stroke="#000" stroke-width="1.3" />
<line x1="41.75" y1="540.70" x2="46.95" y2="540.70" stroke="#000" stroke-width="1.3" />
<rect x="41.05" y="533.20" width="6.6" height="6.6" fill="#000"/>
<line x1="57.50" y1="532.29" x2="57.50" y2="540.70" stroke="#000" stroke-width="1.2" />
<line x1="54.90" y1="532.29" x2="60.10" y2="532.29" stroke="#000" stroke-width="1.3" />
<line x1="54.90" y1="540.70" x2="60.10" y2="540.70" stroke="#000" stroke-width="1.3" />
<rect x="54.20" y="533.20" width="6.6" height="6.6" fill="#000"/>
<line x1="69.10" y1="531.34" x2="69.10" y2="539.74" stroke="#000" stroke-width="1.2" />
<line x1="66.50" y1="531.34" x2="71.70" y2="531.34" stroke="#000" stroke-width="1.3" />
<line x1="66.50" y1="539.74" x2="71.70" y2="539.74" stroke="#000" stroke-width="1.3" />
<rect x="65.80" y="532.24" width="6.6" height="6.6" fill="#000"/>
<line x1="82.20" y1="483.46" x2="82.20" y2="491.86" stroke="#000" stroke-width="1.2" />
<line x1="79.60" y1="483.46" x2="84.80" y2="483.46" stroke="#000" stroke-width="1.3" />
<line x1="79.60" y1="491.86" x2="84.80" y2="491.86" stroke="#000" stroke-width="1.3" />
<rect x="78.90" y="484.36" width="6.6" height="6.6" fill="#000"/>
<line x1="93.50" y1="485.13" x2="93.50" y2="493.53" stroke="#000" stroke-width="1.2" />
<line x1="90.90" y1="485.13" x2="96.10" y2="485.13" stroke="#000" stroke-width="1.3" />
<line x1="90.90" y1="493.53" x2="96.10" y2="493.53" stroke="#000" stroke-width="1.3" />
<rect x="90.20" y="486.03" width="6.6" height="6.6" fill="#000"/>
<line x1="106.50" y1="485.13" x2="106.50" y2="493.53" stroke="#000" stroke-width="1.2" />
<line x1="103.90" y1="485.13" x2="109.10" y2="485.13" stroke="#000" stroke-width="1.3" />
<line x1="103.90" y1="493.53" x2="109.10" y2="493.53" stroke="#000" stroke-width="1.3" />
<rect x="103.20" y="486.03" width="6.6" height="6.6" fill="#000"/>
<line x1="117.80" y1="484.42" x2="117.80" y2="492.82" stroke="#000" stroke-width="1.2" />
<line x1="115.20" y1="484.42" x2="120.40" y2="484.42" stroke="#000" stroke-width="1.3" />
<line x1="115.20" y1="492.82" x2="120.40" y2="492.82" stroke="#000" stroke-width="1.3" />
<rect x="114.50" y="485.32" width="6.6" height="6.6" fill="#000"/>
<line x1="131.00" y1="483.22" x2="131.00" y2="492.82" stroke="#000" stroke-width="1.2" />
<line x1="128.40" y1="483.22" x2="133.60" y2="483.22" stroke="#000" stroke-width="1.3" />
<line x1="128.40" y1="492.82" x2="133.60" y2="492.82" stroke="#000" stroke-width="1.3" />
<rect x="127.70" y="484.72" width="6.6" height="6.6" fill="#000"/>
<line x1="142.20" y1="483.58" x2="142.20" y2="493.18" stroke="#000" stroke-width="1.2" />
<line x1="139.60" y1="483.58" x2="144.80" y2="483.58" stroke="#000" stroke-width="1.3" />
<line x1="139.60" y1="493.18" x2="144.80" y2="493.18" stroke="#000" stroke-width="1.3" />
<rect x="138.90" y="485.08" width="6.6" height="6.6" fill="#000"/>
<line x1="155.50" y1="575.47" x2="155.50" y2="578.47" stroke="#000" stroke-width="1.2" />
<line x1="152.90" y1="575.47" x2="158.10" y2="575.47" stroke="#000" stroke-width="1.3" />
<line x1="152.90" y1="578.47" x2="158.10" y2="578.47" stroke="#000" stroke-width="1.3" />
<rect x="152.20" y="573.67" width="6.6" height="6.6" fill="#000"/>
<line x1="166.90" y1="572.73" x2="166.90" y2="575.73" stroke="#000" stroke-width="1.2" />
<line x1="164.30" y1="572.73" x2="169.50" y2="572.73" stroke="#000" stroke-width="1.3" />
<line x1="164.30" y1="575.73" x2="169.50" y2="575.73" stroke="#000" stroke-width="1.3" />
<rect x="163.60" y="570.93" width="6.6" height="6.6" fill="#000"/>
<line x1="179.70" y1="571.41" x2="179.70" y2="574.41" stroke="#000" stroke-width="1.2" />
<line x1="177.10" y1="571.41" x2="182.30" y2="571.41" stroke="#000" stroke-width="1.3" />
<line x1="177.10" y1="574.41" x2="182.30" y2="574.41" stroke="#000" stroke-width="1.3" />
<rect x="176.40" y="569.61" width="6.6" height="6.6" fill="#000"/>
<line x1="191.20" y1="569.74" x2="191.20" y2="572.74" stroke="#000" stroke-width="1.2" />
<line x1="188.60" y1="569.74" x2="193.80" y2="569.74" stroke="#000" stroke-width="1.3" />
<line x1="188.60" y1="572.74" x2="193.80" y2="572.74" stroke="#000" stroke-width="1.3" />
<rect x="187.90" y="567.94" width="6.6" height="6.6" fill="#000"/>
<line x1="204.20" y1="569.02" x2="204.20" y2="572.02" stroke="#000" stroke-width="1.2" />
<line x1="201.60" y1="569.02" x2="206.80" y2="569.02" stroke="#000" stroke-width="1.3" />
<line x1="201.60" y1="572.02" x2="206.80" y2="572.02" stroke="#000" stroke-width="1.3" />
<rect x="200.90" y="567.22" width="6.6" height="6.6" fill="#000"/>
<line x1="215.60" y1="569.02" x2="215.60" y2="572.02" stroke="#000" stroke-width="1.2" />
<line x1="213.00" y1="569.02" x2="218.20" y2="569.02" stroke="#000" stroke-width="1.3" />
<line x1="213.00" y1="572.02" x2="218.20" y2="572.02" stroke="#000" stroke-width="1.3" />
<rect x="212.30" y="567.22" width="6.6" height="6.6" fill="#000"/>
<line x1="229.60" y1="574.16" x2="229.60" y2="577.16" stroke="#000" stroke-width="1.2" />
<line x1="227.00" y1="574.16" x2="232.20" y2="574.16" stroke="#000" stroke-width="1.3" />
<line x1="227.00" y1="577.16" x2="232.20" y2="577.16" stroke="#000" stroke-width="1.3" />
<rect x="226.30" y="572.36" width="6.6" height="6.6" fill="#000"/>
<line x1="42.60" y1="442.90" x2="42.60" y2="585.20" stroke="#000" stroke-width="1.4" />
<line x1="42.00" y1="581.70" x2="250.90" y2="581.70" stroke="#000" stroke-width="1.4" />
<line x1="39.00" y1="575.70" x2="42.60" y2="575.70" stroke="#000" stroke-width="1.1" />
<text x="36.90" y="578.26" font-size="8.3" text-anchor="end" fill="#1a1a1a" font-weight="normal" transform="translate(36.900 578.263) skewX(0.4) translate(-36.900 -578.263)" stroke="#1a1a1a" stroke-width="0.25">0</text>
<line x1="39.00" y1="515.60" x2="42.60" y2="515.60" stroke="#000" stroke-width="1.1" />
<text x="36.90" y="518.16" font-size="8.3" text-anchor="end" fill="#1a1a1a" font-weight="normal" transform="translate(36.900 518.163) skewX(0.4) translate(-36.900 -518.163)" stroke="#1a1a1a" stroke-width="0.25">50</text>
<line x1="39.00" y1="455.50" x2="42.60" y2="455.50" stroke="#000" stroke-width="1.1" />
<text x="36.90" y="458.06" font-size="8.3" text-anchor="end" fill="#1a1a1a" font-weight="normal" transform="translate(36.900 458.063) skewX(0.4) translate(-36.900 -458.063)" stroke="#1a1a1a" stroke-width="0.25">100</text>
<line x1="42.60" y1="581.70" x2="42.60" y2="585.00" stroke="#000" stroke-width="1.3" />
<text x="42.60" y="595.40" font-size="8.3" text-anchor="middle" fill="#1a1a1a" font-weight="normal" transform="translate(42.600 595.400) skewX(0.4) translate(-42.600 -595.400)" stroke="#1a1a1a" stroke-width="0.25">0</text>
<line x1="136.90" y1="581.70" x2="136.90" y2="585.00" stroke="#000" stroke-width="1.3" />
<text x="136.90" y="595.40" font-size="8.3" text-anchor="middle" fill="#1a1a1a" font-weight="normal" transform="translate(136.900 595.400) skewX(0.4) translate(-136.900 -595.400)" stroke="#1a1a1a" stroke-width="0.25">50</text>
<line x1="231.20" y1="581.70" x2="231.20" y2="585.00" stroke="#000" stroke-width="1.3" />
<text x="231.20" y="595.40" font-size="8.3" text-anchor="middle" fill="#1a1a1a" font-weight="normal" transform="translate(231.200 595.400) skewX(0.4) translate(-231.200 -595.400)" stroke="#1a1a1a" stroke-width="0.25">100</text>
<text x="139.65" y="606.73" font-size="9.40" font-weight="normal" fill="#222" text-anchor="middle" textLength="36.55" lengthAdjust="spacingAndGlyphs" transform="rotate(0 139.651 606.726) translate(139.651 606.726) skewX(0.4) translate(-139.651 -606.726)" stroke="#222" stroke-width="0.28">Minutes</text>
<text x="8.90" y="510.93" font-size="10.20" font-weight="normal" fill="#222" text-anchor="middle" textLength="115.79" lengthAdjust="spacingAndGlyphs" transform="rotate(-90 8.900 510.934) translate(8.900 510.934) skewX(0.4) translate(-8.900 -510.934)" stroke="#222" stroke-width="0.28">Oxygen consumption rate</text>
<text x="21.77" y="513.26" font-size="10.20" font-weight="normal" fill="#222" text-anchor="middle" textLength="50.31" lengthAdjust="spacingAndGlyphs" transform="rotate(-90 21.775 513.264) translate(21.775 513.264) skewX(0.4) translate(-21.775 -513.264)" stroke="#222" stroke-width="0.28">(pmol/min)</text>
<text x="225.33" y="468.70" font-size="9.80" font-weight="normal" fill="#222" text-anchor="middle" textLength="52.48" lengthAdjust="spacingAndGlyphs" transform="rotate(0 225.330 468.703) translate(225.330 468.703) skewX(0.4) translate(-225.330 -468.703)" stroke="#222" stroke-width="0.28">αCD3/CD28</text>
<text x="222.61" y="486.21" font-size="9.80" font-weight="normal" fill="#222" text-anchor="middle" textLength="42.28" lengthAdjust="spacingAndGlyphs" transform="rotate(0 222.610 486.211) translate(222.610 486.211) skewX(0.4) translate(-222.610 -486.211)" stroke="#222" stroke-width="0.28">+ αPROS1</text>
<line x1="178.60" y1="467.60" x2="194.00" y2="467.60" stroke="#000" stroke-width="2.0" />
<rect x="183.6" y="464.5" width="6.4" height="6.2" fill="#000"/>
<line x1="178.60" y1="483.50" x2="194.00" y2="483.50" stroke="#087e94" stroke-width="2.0" />
<polygon points="187,480.0 191.0,486.4 183.0,486.4" fill="#087e94"/>
</svg></body></html>
